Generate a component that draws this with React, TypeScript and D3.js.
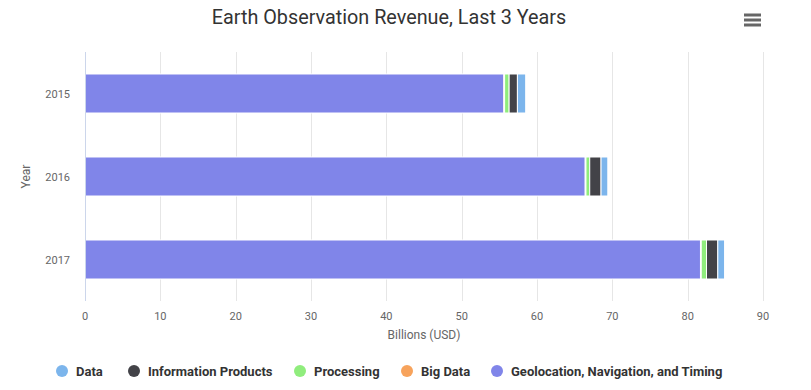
import { useEffect, useRef } from 'react'
import * as d3 from 'd3'

const years = ['2015', '2016', '2017']
const geolocation = [55.6, 66.4, 81.7]
const bigData = [0.1, 0.1, 0.1]
const processing = [0.6, 0.5, 0.7]
const infoProducts = [1.1, 1.5, 1.5]
const dataRev = [1.1, 0.9, 0.9]
const xTicks = [0, 10, 20, 30, 40, 50, 60, 70, 80, 90]

const seriesNames = ['Data', 'Information Products', 'Processing', 'Big Data', 'Geolocation, Navigation, and Timing']
const seriesColors = ['#7cb5ec', '#434348', '#90ed7d', '#f7a35c', '#8085e9']

export default function App() {
  const svgRef = useRef<SVGSVGElement>(null)

  useEffect(() => {
    if (!svgRef.current) return
    const width = 811
    const height = 390
    const margin = { top: 52, right: 48, bottom: 89, left: 85 }
    const innerW = width - margin.left - margin.right
    const innerH = height - margin.top - margin.bottom
    const font = 'Roboto, "Open Sans", sans-serif'

    const svg = d3.select(svgRef.current)
    svg.selectAll('*').remove()
    svg.attr('width', width).attr('height', height).style('font-family', font)

    svg.append('rect').attr('width', width).attr('height', height).attr('fill', '#ffffff')

    // Title
    svg.append('text')
      .attr('x', 389).attr('y', 24)
      .attr('text-anchor', 'middle')
      .attr('fill', '#333333').attr('font-size', '19.8px')
      .text('Earth Observation Revenue, Last 3 Years')

    // Menu icon
    const menu = svg.append('g').attr('transform', 'translate(744, 15)')
    ;[0, 5, 10].forEach(dy => {
      menu.append('line').attr('x1', 0).attr('x2', 17).attr('y1', dy).attr('y2', dy)
        .attr('stroke', '#666666').attr('stroke-width', 3)
    })

    const g = svg.append('g').attr('transform', `translate(${margin.left},${margin.top})`)

    const x = d3.scaleLinear().domain([0, 90]).range([0, innerW])
    const y = d3.scaleBand().domain(years).range([0, innerH]).paddingInner(0.53).paddingOuter(0.265)

    // Grid
    g.append('g').selectAll('line').data(xTicks).enter().append('line')
      .attr('x1', d => Math.round(x(d)) + 0.5).attr('x2', d => Math.round(x(d)) + 0.5)
      .attr('y1', 0).attr('y2', innerH)
      .attr('stroke', '#e6e6e6').attr('stroke-width', 1)

    // Stacked bars (first series sits at the far end, as in the legend order)
    const rows = years.map((yr, i) => ({
      year: yr,
      geo: geolocation[i],
      big: bigData[i],
      proc: processing[i],
      info: infoProducts[i],
      data: dataRev[i],
    }))
    const keys = ['geo', 'big', 'proc', 'info', 'data']
    const colorByKey: Record<string, string> = {
      geo: seriesColors[4], big: seriesColors[3], proc: seriesColors[2], info: seriesColors[1], data: seriesColors[0],
    }
    const stacked = d3.stack<any>().keys(keys)(rows)

    stacked.forEach(layer => {
      g.append('g').selectAll('rect').data(layer).enter().append('rect')
        .attr('x', d => x(d[0]))
        .attr('y', d => y(d.data.year) as number)
        .attr('width', d => Math.max(0, x(d[1]) - x(d[0])))
        .attr('height', y.bandwidth())
        .attr('fill', colorByKey[layer.key])
        .attr('stroke', '#ffffff').attr('stroke-width', 1)
    })

    // Y axis line
    g.append('line').attr('x1', 0.5).attr('x2', 0.5).attr('y1', 0).attr('y2', innerH)
      .attr('stroke', '#ccd6eb').attr('stroke-width', 1)

    // X tick labels
    g.append('g').selectAll('text').data(xTicks).enter().append('text')
      .attr('x', d => x(d)).attr('y', innerH + 19)
      .attr('text-anchor', 'middle')
      .attr('fill', '#666666').attr('font-size', '11px')
      .text(d => String(d))

    // Y tick labels
    g.append('g').selectAll('text').data(years).enter().append('text')
      .attr('x', -15).attr('y', d => (y(d) as number) + y.bandwidth() / 2 + 4)
      .attr('text-anchor', 'end')
      .attr('fill', '#666666').attr('font-size', '11px')
      .text(d => d)

    // Axis titles
    svg.append('text')
      .attr('x', margin.left + innerW / 2).attr('y', 339)
      .attr('text-anchor', 'middle')
      .attr('fill', '#666666').attr('font-size', '12px')
      .text('Billions (USD)')

    svg.append('text')
      .attr('transform', `translate(30, ${margin.top + innerH / 2}) rotate(-90)`)
      .attr('text-anchor', 'middle')
      .attr('fill', '#666666').attr('font-size', '12px')
      .text('Year')

    // Legend
    const legendX = [62, 134, 300, 407, 497]
    const legend = svg.append('g').attr('transform', 'translate(0, 371)')
    seriesNames.forEach((name, i) => {
      legend.append('circle').attr('cx', legendX[i]).attr('cy', 0).attr('r', 6)
        .attr('fill', seriesColors[i])
      legend.append('text').attr('x', legendX[i] + 14).attr('y', 4.5)
        .attr('fill', '#333333').attr('font-size', '13px').attr('font-weight', 'bold')
        .text(name)
    })
  }, [])

  return (
    <div style={{ margin: -8 }}>
      <svg ref={svgRef} style={{ display: 'block' }} />
    </div>
  )
}
